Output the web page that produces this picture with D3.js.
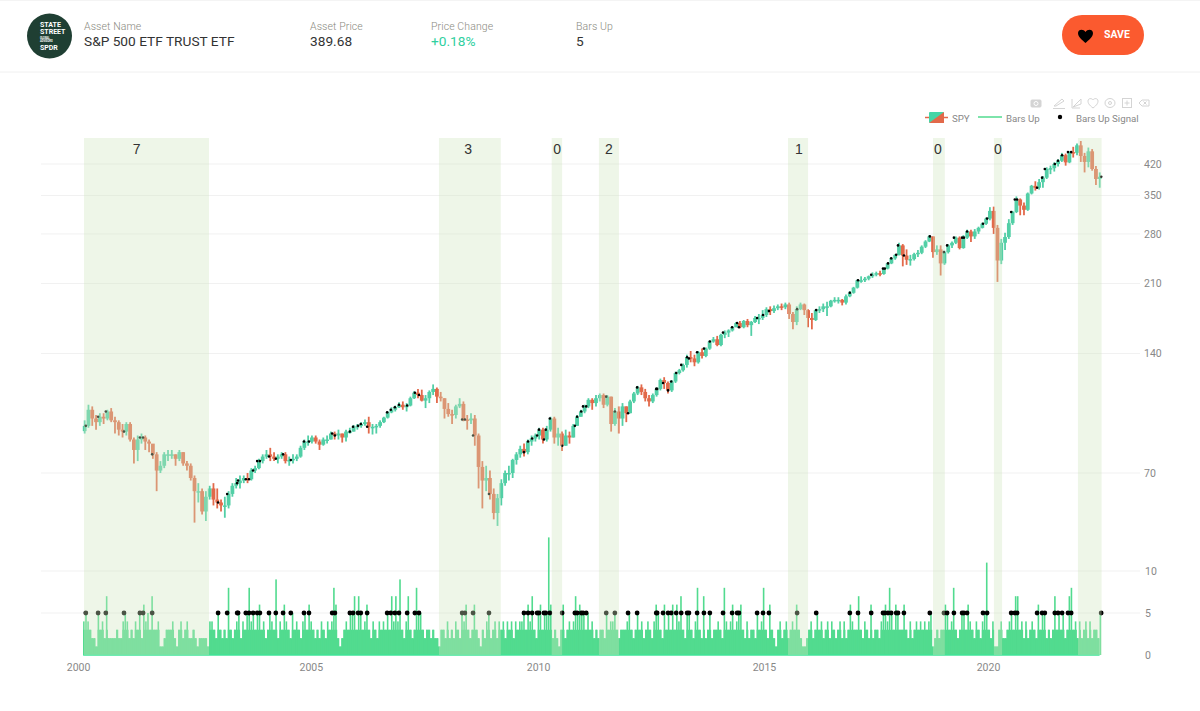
<!DOCTYPE html>
<html>
<head>
<meta charset="utf-8">
<script src="https://cdn.jsdelivr.net/npm/d3@7"></script>
<style>
  html, body { margin: 0; padding: 0; background: #fff; }
  svg { display: block; font-family: Roboto, sans-serif; }
</style>
</head>
<body>
<svg id="chart" width="1200" height="711"></svg>
<script>
// monthly candles, first one is Feb 2000
const closes = [
  92,101,96,94,97,96,100,95,94,90,89,
  93,85,80,85,86,84,83,78,71,73,78,78,
  78,76,79,74,73,68,63,63,56,61,64,60,
  59,58,58,62,65,66,67,68,67.5,71,72,75,
  77,78,77,76,77,78,75,75.5,76,77,81,84,
  84,86,84,82.5,85,85,88,87,88,86,89,89,
  91.5,92,93,94,91.5,91.5,92,94,96.5,99.5,101,102.5,
  104,102.5,103.5,108,111.5,110,106.5,108,112,114,109,108,
  101.5,98.5,98,103,104.5,95.5,95,96,87,72.5,67,68,
  62,55.5,60.5,66,70,70,75.5,78,80.5,79,84,85.5,
  87,90,85,90,96,86,88,82,87,86,92,97,
  100,103,107,105,108,110,104,109,93,100,96,103,
  99,106,111,115,112,108,106,110,114,120,118,113,
  119,125,127,131,137,136,133,141,138,144,150,152,
  147,156,158,160,163,167,163,169,165,168,172,172,
  175,181,179,182,184,183,186,176,168,181,186,180,
  172,170,180,181,184,184,190,191,191,188,195,199,
  205,214,214,216,219,221,223,222,229,236,243,248,
  262,247,241,242,249,251,260,268,276,252,256,236,
  252,262,266,274,258,274,284,276,284,290,297,306,
  320,290,240,266,275,298,318,342,330,322,354,370,
  366,378,388,408,410,420,428,442,424,450,448,468,
  440,425,452,408,385,390
];
const lows = [
  88,91,92,90,92,93,95,94,88,87,86,
  87,84,74,75,83,80,79,76,63,70,72,75,
  76,73,75,73,71,67,52.5,59,55,53,60,58,
  57,56,54,57,61,64,64,66,66,67,70,71.5,
  74,76,75,75,74,76,74,73,74,75,76.5,80,
  82,83,83,80,82,83,85,85,85,83.5,84,88,
  89,90,91,92,88,87.5,88,91,93.5,96,99,100,
  102,101,100,103,107.5,108,106,102,105,110,105,106,
  96,97,93,96,102,94.5,90,93,82,64,57,63,
  60,53.5,51.5,58,65,67,68,73.5,76.5,77,78,82,
  84,85,83,84,89,83,82,79.5,82,83,86,92,
  97,99,102,101,103,106,102,103,89,92,88,92,
  94,99,105,110,110,106,103,105,109,113,114,111,
  112,118,124,126,129,133,130,132,136,137,143,149,
  146,146,153,154,159,163,162,162,163,155,167,166,
  170,173,175,177,180,180,181,171,161,165,180,175,
  163,161,169,177,178,174,183,188,187,185,186,194,
  198,204,211,212,214,217,219,219,221,228,235,241,
  247,232,234,233,240,245,249,258,267,244,248,220,
  234,250,258,264,256,257,272,267,272,280,289,295,
  303,280,212,235,255,272,295,316,312,312,320,352,
  360,362,366,385,396,402,414,425,416,422,436,442,
  425,400,412,404,372,366
];
const highs = [
  95,104,103,98,99,99,101,102,97,95,93,
  94,94,86,87,88,87,85,82,79,75,79,80,
  80,78,80,79,75,74,69,66,64,63,65,66,
  64,60,61,63,66,68,69,69,70,72,73,76,
  78,80,81,79,78,79,79,77,78,78,82,85,
  87,87,87,85,86,87,89,89,90,88,90,91,
  92.5,93,94,95.5,97,93,93,95,97,100,102.5,103.5,
  105.5,106,105,109,112.5,114,113.5,110,113,117,115,112,
  108,105,101,104,108,106,98,99,98,88,75,73,
  71,64,62,67.5,71,73,76,79,82,83,85,87,
  88,91,91,92,97,97,91,89,90,89,93,98,
  101,104,108,108,110,111,111,110,109,102,103,105,
  103,107,112,116,117,114,110,111,115,121,122,119,
  120,126,128,132,139,142,139,142,144,145,151,154,
  155,157,160,161,164,168,169,170,171,169,174,176,
  180,183,184,185,186,187,188,188,178,184,188,187,
  181,177,181,184,187,189,191,194,194,192,197,201,
  206,215,219,218,220,224,225,226,230,237,244,249,
  266,264,256,248,251,255,262,270,278,276,262,262,
  254,264,268,276,276,278,287,287,288,292,299,308,
  327,328,295,272,282,305,320,348,344,336,356,372,
  380,385,392,412,416,424,432,448,446,452,464,473,
  480,448,462,458,415,400
];
const monthYears = closes.map((d, i) => 2000 + (i + 1.5) / 12);

// Bars Up count, 22 readings per year starting 2000.09
const barValues = [
  4,5,4,3,2,2,1,5,3,4,2,7,2,2,2,2,3,2,2,4,
  5,4,2,3,2,4,3,5,2,6,4,5,3,7,3,3,4,1,1,2,3,3,
  3,4,2,1,3,4,2,3,4,2,2,3,2,1,2,2,2,2,1,4,4,3,
  2,5,3,2,3,2,8,3,2,3,4,5,2,4,3,5,8,4,5,3,5,6,
  3,4,2,3,5,4,3,9,2,4,3,6,4,3,2,5,3,4,3,2,4,5,
  3,6,4,3,2,3,2,4,3,2,4,3,4,8,6,2,1,2,3,4,3,5,
  5,7,3,7,5,3,4,6,3,2,4,3,2,4,3,4,3,5,3,7,4,7,
  4,9,3,2,4,7,3,2,3,8,5,5,3,2,3,3,2,3,2,2,1,3,
  3,2,4,2,3,2,4,3,2,5,4,6,3,2,3,6,3,2,1,3,2,4,
  5,2,3,4,2,4,3,4,2,4,3,4,2,4,3,4,4,5,3,6,4,7,
  3,2,5,6,3,5,5,14,6,2,3,2,1,3,6,2,3,4,3,4,7,5,
  6,5,5,3,5,3,4,2,3,2,3,3,2,5,3,4,4,5,3,2,3,3,
  3,4,5,3,2,3,5,3,4,2,3,4,3,2,4,6,5,3,2,6,3,5,
  3,6,3,6,4,7,3,2,5,5,3,2,4,8,3,2,7,2,3,5,2,3,
  3,4,3,2,8,4,3,4,6,3,4,5,6,3,2,4,2,3,3,2,5,3,
  4,8,3,2,6,3,2,1,3,4,2,3,4,2,3,4,3,6,3,2,1,1,
  2,3,4,2,3,5,3,4,2,3,4,2,4,3,2,3,4,2,4,2,3,6,
  4,3,3,7,3,2,4,3,2,6,2,3,3,2,4,5,6,4,8,5,3,6,
  5,3,3,6,3,2,4,2,3,4,3,4,3,4,3,4,5,1,2,3,2,3,
  3,6,5,3,4,8,3,2,3,5,5,3,6,4,3,2,4,3,2,4,5,11,
  3,2,4,1,1,3,4,2,2,3,4,5,3,7,7,3,4,2,4,2,3,4,
  3,2,6,3,5,5,2,3,2,3,7,3,5,3,5,2,3,7,8,3,4,2,
  4,2,3,4,2,4,2,3,3,2,5
];
const barYears = barValues.map((d, i) => 2000.0909 + i / 22);

const signalYears = [
  2000.15,2000.42,2000.59,2000.99,2001.34,2001.41,2001.61,
  2003.06,2003.26,2003.48,2003.50,2003.67,2003.74,2003.83,2003.92,2003.98,
  2004.18,2004.33,2004.49,2004.66,2004.95,2005.06,2005.57,2005.63,2005.96,2006.03,
  2006.14,2006.20,2006.34,2006.78,2006.86,2006.95,2007.04,2007.22,2007.39,2007.48,
  2008.43,2008.49,2008.67,2009.02,2009.79,2009.88,2009.97,2010.08,2010.12,2010.23,
  2010.27,2010.36,2010.63,2010.91,2010.96,2011.05,2011.09,2011.16,2011.60,2011.79,
  2012.08,2012.28,2012.70,2012.72,2012.85,2012.96,2013.03,2013.14,2013.25,2013.38,
  2013.42,2013.60,2013.75,2013.88,2014.17,2014.37,2014.48,2014.52,2014.92,2015.05,
  2015.18,2015.80,2016.22,2016.96,2017.14,2017.43,2017.69,2017.73,2017.80,2017.87,
  2017.98,2018.02,2018.15,2018.72,2019.03,2019.10,2019.25,2019.43,2019.47,2019.54,
  2019.89,2019.98,2020.51,2020.59,2020.64,2021.08,2021.19,2021.25,2021.47,2021.54,
  2021.63,2021.76,2021.83,2022.49
];

const regionStart = [2000.11,2007.92,2010.40,2011.44,2015.60,2018.79,2020.13,2021.98];
const regionEnd = [2002.86,2009.28,2010.63,2011.88,2016.04,2019.05,2020.31,2022.50];
const regionLabels = ["7","3","0","2","1","0","0"];
const regionLabelYears = [2001.27,2008.56,2010.52,2011.66,2015.84,2018.90,2020.22];

const xTickYears = [1999.98,2005.10,2010.10,2015.07,2020];
const priceTicks = [70,140,210,280,350,420];
const barTicks = [0,5,10];

const headerLabels = ["Asset Name","Asset Price","Price Change","Bars Up"];
const headerValues = ["S&P 500 ETF TRUST ETF","389.68","+0.18%","5"];
const headerX = [84,310,431,576];

const svg = d3.select("#chart");

const x = d3.scaleLinear().domain([2000, 2020]).range([79, 988]);
const y = d3.scaleLog().domain([70, 420]).range([473, 164]);
const yBars = d3.scaleLinear().domain([0, 10]).range([655, 571]);

const upColor = "#52cfa6", downColor = "#e2694a", barColor = "#52db8f";
const barFloor = 3;

// grid
svg.append("g").selectAll("line")
  .data(priceTicks.map(d => y(d)).concat(barTicks.slice(1).map(d => yBars(d))))
  .enter().append("line")
    .attr("x1", 41).attr("x2", 1140)
    .attr("y1", d => d).attr("y2", d => d)
    .attr("stroke", "#f1f1f1");

// bars up: solid floor plus thin stems for the counts above it
const barArea = d3.area()
  .x((d, i) => x(barYears[i]))
  .y0(yBars(0))
  .y1(d => yBars(Math.min(d, barFloor)))
  .curve(d3.curveStepAfter);
svg.append("path").datum(barValues)
  .attr("fill", barColor)
  .attr("d", barArea);
svg.append("g").selectAll("rect")
  .data(barValues)
  .enter().append("rect")
    .attr("x", (d, i) => x(barYears[i]))
    .attr("width", 1.6)
    .attr("y", d => yBars(d))
    .attr("height", d => yBars(0) - yBars(d))
    .attr("fill", barColor);
svg.append("line")
  .attr("x1", x(barYears[0])).attr("x2", x(barYears[barYears.length - 1]))
  .attr("y1", yBars(0)).attr("y2", yBars(0))
  .attr("stroke", "#3fe597").attr("stroke-width", 1.5);

// candles
const candles = svg.append("g").selectAll("g")
  .data(closes.map((c, i) => ({ t: monthYears[i], o: i ? closes[i - 1] : c * 0.97, c: c, l: lows[i], h: highs[i] })))
  .enter().append("g");
candles.append("line")
  .attr("x1", d => x(d.t)).attr("x2", d => x(d.t))
  .attr("y1", d => y(d.l)).attr("y2", d => y(d.h))
  .attr("stroke", d => d.c >= d.o ? upColor : downColor)
  .attr("stroke-width", 1.8);
candles.append("rect")
  .attr("x", d => x(d.t) - 1.9)
  .attr("width", 3.8)
  .attr("y", d => y(Math.max(d.o, d.c)))
  .attr("height", d => Math.max(1.5, Math.abs(y(d.o) - y(d.c))))
  .attr("fill", d => d.c >= d.o ? upColor : downColor);

// signal markers, on the price and on the bars panel
const nearestClose = t => closes[d3.bisectCenter(monthYears, t)];
svg.append("g").selectAll("circle")
  .data(signalYears)
  .enter().append("circle")
    .attr("cx", d => x(d))
    .attr("cy", d => y(nearestClose(d)))
    .attr("r", 1.3)
    .attr("fill", "#000");
svg.append("g").selectAll("circle")
  .data(signalYears)
  .enter().append("circle")
    .attr("cx", d => x(d))
    .attr("cy", yBars(5))
    .attr("r", 2.4)
    .attr("fill", "#000");

// shaded regions sit over the marks
svg.append("g").selectAll("rect")
  .data(regionStart)
  .enter().append("rect")
    .attr("x", d => x(d))
    .attr("width", (d, i) => x(regionEnd[i]) - x(d))
    .attr("y", 138)
    .attr("height", yBars(0) - 138)
    .attr("fill", "rgba(208,231,190,0.36)");
svg.append("g").selectAll("text")
  .data(regionLabels)
  .enter().append("text")
    .attr("x", (d, i) => x(regionLabelYears[i]))
    .attr("y", 154)
    .attr("text-anchor", "middle")
    .attr("font-size", 14)
    .attr("font-family", "'Liberation Sans', Arial, sans-serif")
    .attr("fill", "#333")
    .text(d => d);

// axes
const xAxis = svg.append("g")
  .attr("transform", "translate(0,664)")
  .call(d3.axisBottom(x).tickValues(xTickYears).tickFormat(d => Math.round(d)).tickSize(0).tickPadding(0));
const yAxis = svg.append("g")
  .attr("transform", "translate(1144,0)")
  .call(d3.axisRight(y).tickValues(priceTicks).tickFormat(d => d).tickSize(0).tickPadding(0));
const yBarAxis = svg.append("g")
  .attr("transform", "translate(1145,0)")
  .call(d3.axisRight(yBars).tickValues(barTicks).tickFormat(d => d).tickSize(0).tickPadding(0));
[xAxis, yAxis, yBarAxis].forEach(a => {
  a.select(".domain").remove();
  a.selectAll("text").attr("fill", "#888").attr("font-size", 10.5).attr("font-family", "Roboto, sans-serif");
});

// header
svg.append("line").attr("x1", 0).attr("x2", 1200).attr("y1", 72).attr("y2", 72).attr("stroke", "#f0f0f0");
svg.append("line").attr("x1", 0).attr("x2", 1200).attr("y1", 0.5).attr("y2", 0.5).attr("stroke", "#f4f4f4");
svg.append("circle").attr("cx", 49.5).attr("cy", 36).attr("r", 22.5).attr("fill", "#1f3f33");
const logoLines = [["STATE", 27, 7], ["STREET", 34, 7], ["GLOBAL", 39, 2.6], ["ADVISORS", 42, 2.6], ["SPDR", 50, 7]];
svg.append("g").selectAll("text")
  .data(logoLines)
  .enter().append("text")
    .attr("x", 40).attr("y", d => d[1])
    .attr("font-size", d => d[2]).attr("font-weight", 700)
    .attr("font-family", "'Liberation Sans Narrow', Roboto, sans-serif")
    .attr("fill", "#fff")
    .text(d => d[0]);

svg.append("g").selectAll("text")
  .data(headerLabels)
  .enter().append("text")
    .attr("x", (d, i) => headerX[i]).attr("y", 30)
    .attr("font-size", 10.5).attr("font-weight", 300).attr("fill", "#8a8a80")
    .attr("letter-spacing", 0.1)
    .text(d => d);
svg.append("g").selectAll("text")
  .data(headerValues)
  .enter().append("text")
    .attr("x", (d, i) => headerX[i]).attr("y", 46)
    .attr("font-size", 13.7)
    .attr("fill", (d, i) => i === 2 ? "#2fd0a0" : "#333")
    .text(d => d);

// save button
svg.append("rect").attr("x", 1062).attr("y", 15).attr("width", 82).attr("height", 40).attr("rx", 20).attr("fill", "#fb5a2f");
svg.append("path")
  .attr("transform", "translate(1085.5,35.5)")
  .attr("d", "M0,7.5 C-3,4.5 -7.5,2 -7.5,-2.5 C-7.5,-6.5 -2,-7 0,-3.5 C2,-7 7.5,-6.5 7.5,-2.5 C7.5,2 3,4.5 0,7.5 Z")
  .attr("fill", "#000");
svg.append("text").attr("x", 1104).attr("y", 38).attr("font-size", 10.5).attr("font-weight", 700).attr("fill", "#fff").text("SAVE");

// plot toolbar
const tool = svg.append("g").attr("fill", "none").attr("stroke", "#d4d4d4").attr("stroke-width", 1);
tool.append("rect").attr("x", 1031).attr("y", 100).attr("width", 10).attr("height", 7).attr("rx", 1).attr("fill", "#d4d4d4");
tool.append("circle").attr("cx", 1036).attr("cy", 103.5).attr("r", 2).attr("stroke", "#fff");
tool.append("path").attr("d", "M1054,106 L1062,99 L1064,101 L1056,106 Z M1053,108.5 H1065");
tool.append("path").attr("d", "M1072,99 V108 H1080 M1073,107 L1081,99 L1081,104 Z");
tool.append("path").attr("d", "M1093,108 C1089,105 1088,103 1088,101 C1088,98 1092,98 1093,100 C1094,98 1098,98 1098,101 C1098,103 1097,105 1093,108 Z");
tool.append("ellipse").attr("cx", 1110).attr("cy", 103).attr("rx", 5).attr("ry", 4.5);
tool.append("circle").attr("cx", 1110).attr("cy", 103).attr("r", 1.5);
tool.append("rect").attr("x", 1122.5).attr("y", 98.5).attr("width", 9).attr("height", 9);
tool.append("path").attr("d", "M1127,100.5 V105.5 M1124.5,103 H1129.5");
tool.append("path").attr("d", "M1139,103 L1142,100 H1149 V106 H1142 Z M1143.5,101.5 L1146.5,104.5 M1146.5,101.5 L1143.5,104.5");

// legend
const legend = svg.append("g");
legend.append("line").attr("x1", 925).attr("x2", 948).attr("y1", 117.5).attr("y2", 117.5).attr("stroke", downColor).attr("stroke-width", 1.5);
legend.append("rect").attr("x", 929).attr("y", 112).attr("width", 15).attr("height", 11).attr("rx", 1).attr("fill", "#45d5a6");
legend.append("path").attr("d", "M944,112 V123 H929 Z").attr("fill", downColor);
legend.append("line").attr("x1", 978).attr("x2", 1002).attr("y1", 117).attr("y2", 117).attr("stroke", barColor).attr("stroke-width", 1.5);
legend.append("circle").attr("cx", 1060).attr("cy", 117).attr("r", 2.2).attr("fill", "#000");
const legendNames = ["SPY", "Bars Up", "Bars Up Signal"], legendX = [952, 1006, 1076];
legend.selectAll("text")
  .data(legendNames)
  .enter().append("text")
    .attr("x", (d, i) => legendX[i]).attr("y", 122)
    .attr("font-size", 9.7).attr("fill", "#888")
    .text(d => d);
</script>
</body>
</html>
